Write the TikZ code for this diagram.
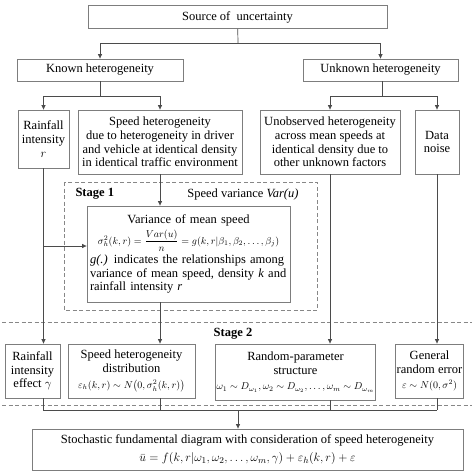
\documentclass[tikz,border=0pt]{standalone}
\usepackage{fontspec}
\setmainfont{Liberation Serif}
\usepackage{amsmath}
\usetikzlibrary{arrows.meta, positioning}
\definecolor{boxgray}{RGB}{125,125,125}
\definecolor{linegray}{RGB}{75,75,75}
\definecolor{dashgray}{RGB}{135,135,135}

\begin{document}
\begin{tikzpicture}[x=1pt,y=1pt,yscale=-1,xscale=1,
  box/.style={draw=boxgray, line width=0.8pt, fill=white, align=center, inner sep=1pt, font=\fontsize{12.5}{13.6}\selectfont},
  conn/.style={draw=linegray, line width=0.7pt},
  arr/.style={conn, -{Triangle[length=4.5pt,width=4pt]}},
  stageline/.style={draw=dashgray, line width=0.8pt, dash pattern=on 4pt off 2.5pt}]
\useasboundingbox (0,0) rectangle (474,474);

%Stage frames
\draw [stageline] (64,182) rectangle (317,310);
\draw [stageline] (2,322) -- (472,322);
\draw [stageline] (2,405) -- (472,405);

% Boxes
\node [box, minimum width=299, minimum height=23] (src) at (237.5,17) {Source of\enspace uncertainty};
\node [box, minimum width=166, minimum height=22] (known) at (100,70) {Known heterogeneity};
\node [box, minimum width=155, minimum height=22] (unknown) at (380.5,70) {Unknown heterogeneity};
\node [box, minimum width=51, minimum height=58] (rain) at (43.5,139) {Rainfall\\intensity\\$r$};
\node [box, minimum width=164, minimum height=64] (speedhet) at (160,142) {Speed heterogeneity\\due to heterogeneity in driver\\and vehicle at identical density\\in identical traffic environment};
\node [box, minimum width=140, minimum height=64] (unobs) at (330,142) {Unobserved heterogeneity\\across mean speeds at\\identical density due to\\other unknown factors};
\node [box, minimum width=44, minimum height=64] (noise) at (437,142) {Data\\noise};
\node [box, minimum width=203, minimum height=96, text width=197, inner sep=3pt, align=left] (variance) at (188.5,254)
  {\centerline{Variance of mean speed}
   \vskip3pt
   \centerline{\fontsize{10}{12}\selectfont $\sigma_h^2(k,r)=\dfrac{Var(u)}{n}=g(k,r|\beta_1,\beta_2,\dots,\beta_j)$}
   \vskip3pt
   \textit{g(.)} indicates the relationships among variance of mean speed, density \textit{k} and rainfall intensity \textit{r}};
\node [box, minimum width=55, minimum height=54] (rainfx) at (32.5,371) {Rainfall\\intensity\\effect $\gamma$};
\node [box, minimum width=127, minimum height=54] (shd) at (131.5,371) {Speed heterogeneity\\distribution\\[2pt]{\fontsize{10}{12}\selectfont $\varepsilon_h(k,r)\sim N\bigl(0,\sigma_h^2(k,r)\bigr)$}};
\node [box, minimum width=155, minimum height=56] (rps) at (295.5,372) {Random-parameter\\structure\\[2pt]{\fontsize{10}{12}\selectfont $\omega_1\sim D_{\omega_1},\omega_2\sim D_{\omega_2},\dots,\omega_m\sim D_{\omega_m}$}};
\node [box, minimum width=65, minimum height=54] (gre) at (429.5,371) {General\\random error\\[1pt]{\fontsize{10}{12}\selectfont $\varepsilon\sim N(0,\sigma^2)$}};
\node [box, minimum width=431, minimum height=41] (final) at (247.5,449.5) {Stochastic fundamental diagram with consideration of speed heterogeneity\\[4pt]$\bar{u}=f(k,r|\omega_1,\omega_2,\dots,\omega_m,\gamma)+\varepsilon_h(k,r)+\varepsilon$};

% Text Node
\node [anchor=west, font=\fontsize{12.5}{13.6}\selectfont\bfseries] (stone) at (72,194) {Stage 1};
\node [anchor=east, font=\fontsize{12.5}{13.6}\selectfont] (svar) at (302,194) {Speed variance \textit{Var(u)}};
\node [font=\fontsize{12.5}{13.6}\selectfont\bfseries] (sttwo) at (233,334) {Stage 2};

%Junctions
\coordinate (jsrc) at (238,43);
\coordinate (jknown) at (known.south |- 0,96);
\coordinate (junknown) at (382,96);
\coordinate (jrain) at (43.5,246);
\coordinate (jvar) at (160,302);
\coordinate (bone) at (43,410);
\coordinate (btwo) at (160,410);
\coordinate (bthree) at (330,410);
\coordinate (bfour) at (437,410);
\coordinate (bmid) at (238,410);

%Straight Lines
\draw [conn] (src) -- (jsrc);
\draw [arr] (jsrc) -| (known);
\draw [arr] (jsrc) -| (unknown);
\draw [conn] (known) -- (jknown);
\draw [arr] (jknown) -| (rain);
\draw [arr] (jknown) -| (speedhet);
\draw [conn] (unknown.south -| junknown) -- (junknown);
\draw [arr] (junknown) -| (unobs);
\draw [arr] (junknown) -| (noise);
\draw [arr] (speedhet) -- (speedhet |- variance.north);
\draw [arr] (rain) -- (rain |- rainfx.north);
\draw [arr] (jrain) -- (variance.west |- jrain);
\draw [arr] (jvar) -- (jvar |- shd.north);
\draw [arr] (unobs) -- (unobs |- rps.north);
\draw [arr] (noise) -- (noise |- gre.north);
\draw [conn] (rainfx.south -| bone) -- (bone);
\draw [conn] (shd.south -| btwo) -- (btwo);
\draw [conn] (rps.south -| bthree) -- (bthree);
\draw [conn] (gre.south -| bfour) -- (bfour);
\draw [conn] (bone) -- (bfour);
\draw [arr] (bmid) -- (bmid |- final.north);

\end{tikzpicture}
\end{document}
